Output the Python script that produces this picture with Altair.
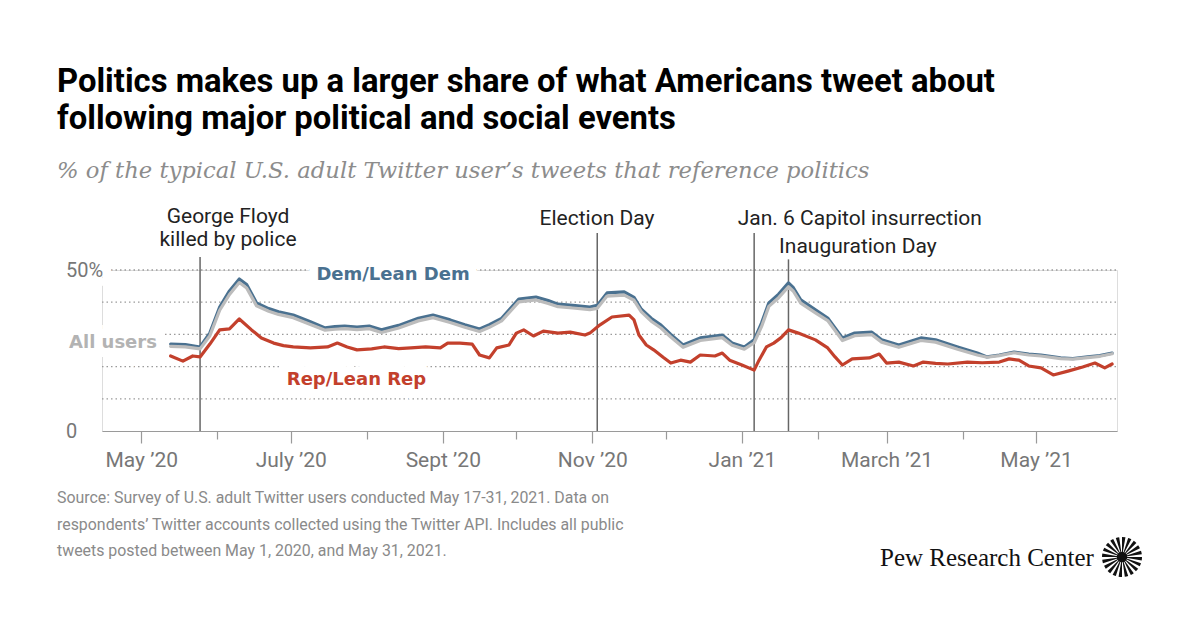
import math
import altair as alt
import pandas as pd

BASE = pd.Timestamp("2020-05-01")

# ---------------- data (days after May 1, 2020 ; % of tweets) -------------
dem_days = [12, 18, 24, 28, 32, 36, 40, 43, 47, 52, 56, 62, 69, 75, 79, 83, 88, 93, 98, 105,
            113, 119, 126, 132, 138, 142, 147, 154, 161, 166, 170, 176, 183, 186, 190, 197, 201, 204, 208, 212,
            216, 221, 228, 233, 237, 241, 246, 250, 253, 256, 260, 264, 266, 269, 275, 280, 286, 291, 298, 302,
            309, 318, 324, 333, 341, 345, 350, 356, 362, 367, 375, 380, 386, 391, 396]
dem_vals = [27.0, 26.8, 26.1, 30.5, 38.5, 43.5, 47.2, 45.5, 39.8, 38.0,
            37.0, 36.0, 33.9, 32.0, 32.4, 32.6, 32.3, 32.6, 31.4, 32.8,
            35.0, 36.0, 34.5, 33.0, 31.7, 33.0, 35.0, 41.0, 41.6, 40.5,
            39.4, 39.0, 38.5, 39.0, 42.9, 43.2, 41.5, 37.8, 35.0, 32.9,
            30.0, 26.7, 28.9, 29.4, 29.8, 27.3, 26.1, 28.3, 33.5, 39.8,
            42.5, 46.0, 44.5, 40.7, 37.6, 35.1, 28.9, 30.4, 30.7, 28.3,
            26.7, 28.9, 28.3, 26.1, 24.2, 23.0, 23.6, 24.5, 23.9, 23.6,
            22.7, 22.5, 23.0, 23.4, 24.2]
all_vals = [26.3, 26.1, 25.5, 29.6, 37.5, 42.4, 46.1, 44.4, 38.9, 37.2,
            36.2, 35.2, 33.1, 31.3, 31.6, 31.8, 31.5, 31.8, 30.6, 32.0,
            34.2, 35.2, 33.7, 32.2, 30.9, 32.2, 34.2, 40.1, 40.7, 39.6,
            38.6, 38.2, 37.7, 38.1, 41.9, 42.2, 40.6, 37.0, 34.1, 32.0,
            29.2, 26.0, 28.1, 28.6, 29.0, 26.6, 25.4, 27.4, 32.4, 38.7,
            41.4, 44.8, 43.4, 39.7, 36.7, 34.3, 28.1, 29.6, 29.9, 27.6,
            26.0, 28.1, 27.6, 25.4, 23.6, 22.9, 23.4, 24.3, 23.6, 23.3,
            22.5, 22.3, 22.8, 23.2, 24.0]
rep_days = [12, 17, 21, 24, 28, 32, 36, 40, 45, 49, 54, 58, 62, 69, 76, 80, 84, 88, 94, 99,
            105, 110, 116, 122, 125, 130, 135, 138, 142, 145, 150, 153, 156, 160, 164, 170, 175, 181, 183, 187,
            192, 199, 201, 203, 206, 209, 213, 216, 220, 224, 228, 234, 237, 240, 245, 250, 252, 255, 258, 261,
            264, 268, 275, 280, 283, 286, 290, 297, 301, 304, 309, 315, 319, 324, 329, 337, 343, 350, 354, 358,
            362, 367, 372, 378, 384, 389, 393, 396]
rep_vals = [23.3, 21.7, 23.3, 23.0, 27.0, 31.4, 31.7, 34.8, 31.4, 28.9,
            27.3, 26.5, 26.1, 25.8, 26.1, 27.3, 26.1, 25.2, 25.5, 26.1,
            25.6, 25.8, 26.1, 25.8, 27.3, 27.3, 27.0, 23.6, 22.7, 25.8,
            26.7, 30.4, 31.4, 29.5, 31.0, 30.4, 30.7, 29.8, 30.4, 32.9,
            35.4, 36.0, 34.5, 29.8, 26.7, 25.2, 22.8, 21.1, 22.0, 21.4,
            23.6, 23.3, 24.2, 22.0, 20.5, 18.9, 22.0, 26.1, 27.3, 29.0,
            31.4, 30.4, 28.3, 25.8, 23.0, 20.5, 22.4, 22.7, 23.9, 21.1,
            21.4, 20.2, 21.4, 21.0, 20.8, 21.4, 21.2, 21.4, 22.4, 22.0,
            20.2, 19.6, 17.4, 18.6, 19.9, 21.1, 19.6, 20.8]

event_dates = ["2020-05-25", "2020-11-03", "2021-01-06", "2021-01-20"]
event_tops = [54.0, 61.5, 61.5, 53.3]

ann_texts = ["George Floyd", "killed by police", "Election Day",
             "Jan. 6 Capitol insurrection", "Inauguration Day"]
ann_days = [35.4, 35.4, 185.9, 293.1, 292.3]
ann_vals = [64.6, 57.5, 64.0, 64.0, 55.3]

grid_vals = [10, 20, 30, 40, 50]
tick_months = [(2020, m) for m in range(5, 13)] + [(2021, m) for m in range(1, 6)]

TITLE = ["Politics makes up a larger share of what Americans tweet about",
         "following major political and social events"]
SUBTITLE = "% of the typical U.S. adult Twitter user\u2019s tweets that reference politics"
SOURCE = ["Source: Survey of U.S. adult Twitter users conducted May 17-31, 2021. Data on",
          "respondents\u2019 Twitter accounts collected using the Twitter API. Includes all public",
          "tweets posted between May 1, 2020, and May 31, 2021."]

DEM = "#4a7190"
ALLC = "#bcbcbc"
REP = "#c3402c"


def d(days):
    return (BASE + pd.Timedelta(days=days)).strftime("%Y-%m-%dT%H:%M:%S")


dem_df = pd.DataFrame({"date": [d(x) for x in dem_days], "v": dem_vals})
all_df = pd.DataFrame({"date": [d(x) for x in dem_days], "v": all_vals})
rep_df = pd.DataFrame({"date": [d(x) for x in rep_days], "v": rep_vals})

start = alt.DateTime(year=2020, month=4, date=15)
end = alt.DateTime(year=2021, month=6, date=3)

month_names = "['Jan','Feb','March','April','May','June','July','Aug','Sept','Oct','Nov','Dec']"
x_axis = alt.Axis(
    values=[alt.DateTime(year=y, month=m, date=1) for y, m in tick_months],
    labelExpr="month(datum.value) % 2 == 0 ? " + month_names +
              "[month(datum.value)] + ' \u2019' + timeFormat(datum.value, '%y') : ''",
    tickSize={"condition": {"test": "month(datum.value) % 2 == 0", "value": 12}, "value": 8},
    tickColor="#9a9a9a", tickWidth=1.2,
    domainColor="#9a9a9a", domainWidth=1.2,
    labelColor="#777777", labelFont="Roboto", labelFontSize=21,
    labelPadding=6, labelOverlap=False, labelFlush=False, labelBound=False,
    grid=False, title=None,
)
X = alt.X("date:T", scale=alt.Scale(domain=[start, end]), axis=x_axis)
Y = alt.Y("v:Q", scale=alt.Scale(domain=[0, 50]), axis=None)

grid_df = pd.DataFrame({"date": [d(-16)] * len(grid_vals), "date2": [d(398)] * len(grid_vals), "v": grid_vals})
grid = alt.Chart(grid_df).mark_rule(color="#9a9a9a", strokeWidth=1.3, strokeDash=[1.5, 3]).encode(
    x=X, x2="date2:T", y=Y)

# series labels (with white halo that interrupts gridlines)
lab_font = dict(font="DejaVu Sans", fontSize=18, fontWeight="bold", baseline="alphabetic")
dem_lab = pd.DataFrame({"date": [d(102.7)], "v": [46.9], "t": ["Dem/Lean Dem"]})
rep_lab = pd.DataFrame({"date": [d(87.8)], "v": [14.3], "t": ["Rep/Lean Rep"]})
all_lab = pd.DataFrame({"date": [d(6.4)], "v": [25.8], "t": ["All users"]})
ylab50 = pd.DataFrame({"v": [47.8], "t": ["50%"]})
ylab0 = pd.DataFrame({"v": [-2.2], "t": ["0"]})

halo = dict(color="white", stroke="white", strokeWidth=18, strokeJoin="miter")
halos = [
    alt.Chart(dem_lab).mark_text(align="center", **lab_font, **halo).encode(x=X, y=Y, text="t:N"),
    alt.Chart(rep_lab).mark_text(align="center", **lab_font, **halo).encode(x=X, y=Y, text="t:N"),
    alt.Chart(all_lab).mark_text(align="right", **lab_font, **halo).encode(x=X, y=Y, text="t:N"),
    alt.Chart(ylab50).mark_text(align="left", font="Roboto", fontSize=20, baseline="alphabetic",
                                **halo).encode(x=alt.value(-36), y=Y, text="t:N"),
]

ev_df = pd.DataFrame({"date": [e + "T00:00:00" for e in event_dates], "v": [0] * 4, "v2": event_tops})
events = alt.Chart(ev_df).mark_rule(color="#666666", strokeWidth=1.5).encode(x=X, y=Y, y2="v2:Q")

ann_df = pd.DataFrame({"date": [d(x) for x in ann_days], "v": ann_vals, "t": ann_texts})
ann = alt.Chart(ann_df).mark_text(align="center", baseline="alphabetic", font="Roboto", fontSize=21,
                                  color="#222222").encode(x=X, y=Y, text="t:N")

line_kw = dict(strokeWidth=3.2, strokeJoin="round", strokeCap="round")
dem_line = alt.Chart(dem_df).mark_line(color=DEM, **line_kw).encode(x=X, y=Y)
all_line = alt.Chart(all_df).mark_line(color=ALLC, **line_kw).encode(x=X, y=Y)
rep_line = alt.Chart(rep_df).mark_line(color=REP, **line_kw).encode(x=X, y=Y)

labels = [
    alt.Chart(dem_lab).mark_text(align="center", color=DEM, **lab_font).encode(x=X, y=Y, text="t:N"),
    alt.Chart(rep_lab).mark_text(align="center", color=REP, **lab_font).encode(x=X, y=Y, text="t:N"),
    alt.Chart(all_lab).mark_text(align="right", color="#b3b3b3", **lab_font).encode(x=X, y=Y, text="t:N"),
    alt.Chart(ylab50).mark_text(align="left", font="Roboto", fontSize=20, baseline="alphabetic",
                                color="#777777").encode(x=alt.value(-36), y=Y, text="t:N"),
    alt.Chart(ylab0).mark_text(align="left", font="Roboto", fontSize=20, baseline="alphabetic",
                               color="#777777").encode(x=alt.value(-36), y=Y, text="t:N"),
]

one = alt.Data(values=[{}])
title = alt.Chart(one).mark_text(text=TITLE, align="left", baseline="alphabetic", font="Roboto",
                                 fontSize=32.8, fontWeight="bold", color="#000000", lineHeight=36.5).encode(
    x=alt.value(-45), y=alt.value(-178))
subtitle = alt.Chart(one).mark_text(text=SUBTITLE, align="left", baseline="alphabetic", font="DejaVu Serif",
                                    fontSize=22.7, fontStyle="italic", color="#8c8c8c").encode(
    x=alt.value(-45), y=alt.value(-92))
source = alt.Chart(one).mark_text(text=SOURCE, align="left", baseline="alphabetic", font="Roboto",
                                  fontSize=15.9, color="#8a8a8a", lineHeight=26.5).encode(
    x=alt.value(-45), y=alt.value(233))
pew = alt.Chart(one).mark_text(text="Pew Research Center", align="left", baseline="alphabetic",
                               font="Liberation Serif", fontSize=25, color="#111111").encode(
    x=alt.value(778), y=alt.value(296))

n_spokes = 20
logo_df = pd.DataFrame({
    "t0": [i * 2 * math.pi / n_spokes for i in range(n_spokes)],
    "t1": [i * 2 * math.pi / n_spokes + 0.55 * 2 * math.pi / n_spokes for i in range(n_spokes)],
})
logo = alt.Chart(logo_df).mark_arc(outerRadius=20, innerRadius=0, color="#111111").encode(
    theta=alt.Theta("t0:Q", scale=None), theta2="t1:Q",
    x=alt.value(1020), y=alt.value(287))
logo_core = alt.Chart(one).mark_circle(size=110, color="#111111", opacity=1).encode(
    x=alt.value(1020), y=alt.value(287))

chart = alt.layer(
    grid, *halos, events, dem_line, all_line, rep_line, *labels, ann,
    title, subtitle, source, pew, logo, logo_core,
).properties(
    width=1015, height=161,
    autosize=alt.AutoSizeParams(type="none"),
    padding={"left": 102, "top": 270, "right": 83, "bottom": 197},
).configure_view(stroke=None).configure(background="white")

chart.save("out.html", embed_options={"renderer": "svg", "actions": False})
